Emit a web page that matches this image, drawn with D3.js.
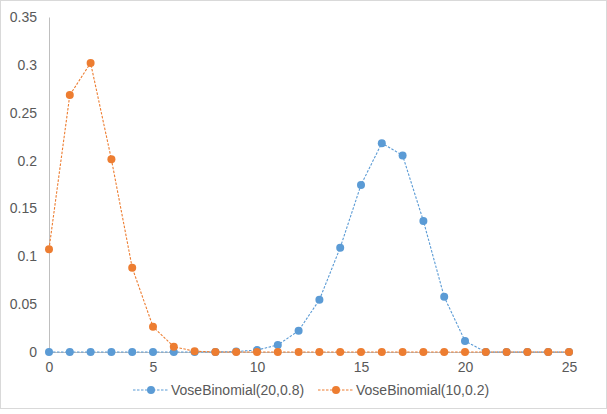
<!DOCTYPE html>
<html>
<head>
<meta charset="utf-8">
<script src="https://cdn.jsdelivr.net/npm/d3@7"></script>
<style>
  body { margin: 0; background: #fff; }
  text { font-family: "Liberation Sans", Arial, sans-serif; fill: #595959; }
</style>
</head>
<body>
<div id="chart"></div>
<script>
// data
const xValues = d3.range(0, 26);
const blueValues = [0, 0, 0, 0, 0, 0, 0, 0, 0, 0.0005, 0.002, 0.0074, 0.0222, 0.0545, 0.109, 0.1746, 0.2182, 0.2054, 0.1369, 0.0576, 0.0115, 0, 0, 0, 0, 0];
const orangeValues = [0.1074, 0.2684, 0.302, 0.2013, 0.0881, 0.0264, 0.0055, 0.0008, 0.0001, 0, 0, 0, 0, 0, 0, 0, 0, 0, 0, 0, 0, 0, 0, 0, 0, 0];
const yTicks = [0, 0.05, 0.1, 0.15, 0.2, 0.25, 0.3, 0.35];
const xTicks = [0, 5, 10, 15, 20, 25];

const series = [
  { name: "VoseBinomial(20,0.8)", values: blueValues, color: "#5B9BD5" },
  { name: "VoseBinomial(10,0.2)", values: orangeValues, color: "#ED7D31" }
];

const W = 607, H = 414, m = { t: 17, r: 38, b: 62, l: 49 };
const iw = W - m.l - m.r, ih = H - m.t - m.b;

const svg = d3.select("#chart").append("svg")
  .attr("width", W).attr("height", H);

// chart border
svg.append("rect")
  .attr("x", 0.5).attr("y", 0.5)
  .attr("width", W - 1).attr("height", H - 6)
  .attr("fill", "none").attr("stroke", "#d9d9d9");

const g = svg.append("g").attr("transform", `translate(${m.l},${m.t})`);

const x = d3.scaleLinear().domain([0, 25]).range([0, iw]);
const y = d3.scaleLinear().domain([0, 0.35]).range([ih, 0]);

// y axis
const yAxis = g.append("g")
  .call(d3.axisLeft(y).tickValues(yTicks).tickSize(0).tickPadding(12).tickFormat(d3.format("~g")));
yAxis.select(".domain").attr("stroke", "#bfbfbf");
yAxis.selectAll("text").style("font-size", "14px");

// x axis
const xAxis = g.append("g").attr("transform", `translate(0,${ih})`)
  .call(d3.axisBottom(x).tickValues(xTicks).tickSize(0).tickPadding(10));
xAxis.select(".domain").attr("stroke", "#bfbfbf");
xAxis.selectAll("text").style("font-size", "14px");

const lineGen = d3.line()
  .x((d, i) => x(xValues[i]))
  .y(d => y(d));

series.forEach(s => {
  const sg = g.append("g");
  sg.append("path")
    .datum(s.values)
    .attr("d", lineGen)
    .attr("fill", "none")
    .attr("stroke", s.color)
    .attr("stroke-width", 1.1)
    .attr("stroke-dasharray", "2.5,1.5");
  sg.selectAll("circle")
    .data(s.values)
    .join("circle")
    .attr("cx", (d, i) => x(xValues[i]))
    .attr("cy", d => y(d))
    .attr("r", 4)
    .attr("fill", s.color);
});

// legend
const legendPos = [133, 318];
const legend = svg.append("g").attr("transform", `translate(0,390)`);
series.forEach((s, i) => {
  const lg = legend.append("g").attr("transform", `translate(${legendPos[i]},0)`);
  lg.append("line")
    .attr("x1", 0).attr("x2", 35).attr("y1", 0).attr("y2", 0)
    .attr("stroke", s.color).attr("stroke-width", 1.1)
    .attr("stroke-dasharray", "2.5,1.5");
  lg.append("circle").attr("cx", 18).attr("cy", 0).attr("r", 4).attr("fill", s.color);
  lg.append("text")
    .attr("x", 38).attr("y", 0).attr("dy", "0.35em")
    .style("font-size", "14px")
    .text(s.name);
});
</script>
</body>
</html>
